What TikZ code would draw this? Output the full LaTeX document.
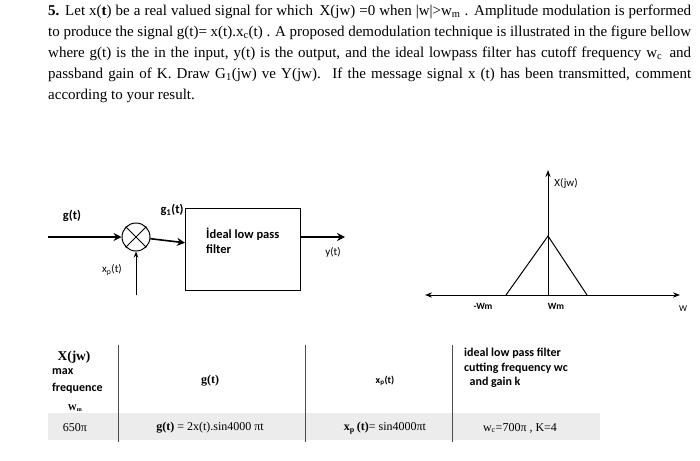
\documentclass[tikz,border=0pt]{standalone}
\usepackage{fontspec}
\setmainfont{Liberation Serif}
\setsansfont{Carlito}
\usetikzlibrary{arrows.meta}
\begin{document}
\begin{tikzpicture}[x=1pt,y=-1pt,
  sl/.style={font=\sffamily\bfseries\fontsize{12.5}{15}\selectfont, inner sep=0pt},
  sv/.style={font=\bfseries\fontsize{12}{14}\selectfont, inner sep=0pt},
  wire/.style={line width=1.6pt, -{Stealth[length=8pt,width=8pt]}},
  thin/.style={line width=1pt}]
\useasboundingbox (0,0) rectangle (700,460);
\node[anchor=north west, inner sep=0pt, text width=643pt, align=justify,
  font=\fontsize{15}{21}\selectfont] (txt) at (48,5)
{\textbf{5.} Let x(\textbf{t}) be a real valued signal for which\, X(jw) =0 when |w|>w\textsubscript{m} . Amplitude modulation is performed\linebreak to produce the signal g(t)= x(t).x\textsubscript{c}(t) . A proposed demodulation technique is illustrated in the figure bellow\linebreak where g(t) is the in the input, y(t) is the output, and the ideal lowpass filter has cutoff frequency w\textsubscript{c}\, and\linebreak passband gain of K. Draw G\textsubscript{1}(jw) ve Y(jw).\, If the message signal x (t) has been transmitted, comment\linebreak according to your result.};
% block diagram
\coordinate (in) at (48,237);
\node[draw, circle, thin, minimum size=28pt, inner sep=0pt] (mul) at (136,237) {};
\draw[thin] (mul.45) -- (mul.225) (mul.135) -- (mul.315);
\node[draw, line width=1.2pt, minimum width=115pt, minimum height=82pt, anchor=north west] (lpf) at (185,208) {};
\node[sl, align=left, anchor=north west] (lpft) at (206,228) {İdeal low pass\\filter};
\coordinate (out) at (345,237);
\coordinate (xp) at (136,295);
\draw[wire] (in) -- (mul);
\draw[wire] (mul) -- (lpf);
\draw[wire] (lpf.east |- out) -- (out);
\draw[thin, -{Stealth[length=6pt]}] (xp) -- (mul);
\node[sl] (gl) at (72,216) {g(t)};
\node[sl] (g1l) at (172,210) {g\textsubscript{1}(t)};
\node[sl, font=\sffamily\fontsize{11}{13}\selectfont] (xpl) at (112,270) {x\textsubscript{p}(t)};
\node[sl, font=\sffamily\fontsize{11}{13}\selectfont] (yl) at (333,252) {y(t)};
% spectrum
\coordinate (al) at (425,295); \coordinate (ar) at (680,295);
\coordinate (o) at (548,295); \coordinate (top) at (548,170);
\coordinate (p) at (548,236); \coordinate (wl) at (506,295); \coordinate (wr) at (587,295);
\draw[thin, {Stealth[length=7pt]}-{Stealth[length=7pt]}] (al) -- (ar);
\draw[thin, -{Stealth[length=7pt]}] (o) -- (top);
\draw[thin] (wl) -- (p) -- (wr);
\node[sl, font=\sffamily\fontsize{11}{13}\selectfont] (xjw) at (566,183) {X(jw)};
\node[sl, font=\sffamily\bfseries\fontsize{9.5}{11}\selectfont] (wml) at (483,306) {-Wm};
\node[sl, font=\sffamily\bfseries\fontsize{9.5}{11}\selectfont] (wmr) at (556,306) {Wm};
\node[sl, font=\sffamily\fontsize{9}{11}\selectfont] (wlab) at (683,309) {W};
% table
\fill[gray!15] (48,413) rectangle (600,440);
\draw[thin, gray!60!black] (118,345) -- (118,442) (305,345) -- (305,442) (452,345) -- (452,442);
\node[sv, font=\bfseries\fontsize{13.5}{15}\selectfont] (c1a) at (74,357) {X(jw)};
\node[sl, align=left, anchor=north west, font=\sffamily\bfseries\fontsize{12}{17}\selectfont] (c1b) at (52,368) {max\\frequence};
\node[sv, font=\bfseries\fontsize{9}{10}\selectfont] (c1c) at (75,408) {W\textsubscript{m}};
\node[sv] (c2) at (210,381) {g(t)};
\node[sl, font=\sffamily\bfseries\fontsize{10}{12}\selectfont] (c3) at (385,381) {x\textsubscript{p}(t)};
\node[sl, align=left, anchor=north west, font=\sffamily\bfseries\fontsize{12}{14.5}\selectfont] (c4) at (464,348) {ideal low pass filter\\cutting frequency wc\\\ \ and gain k};
\node[font=\fontsize{12}{14}\selectfont, inner sep=0pt] (d1) at (75,428) {650π};
\node[font=\fontsize{12}{14}\selectfont, inner sep=0pt] (d2) at (210,428) {\textbf{g(t)} = 2x(t).sin4000 πt};
\node[font=\fontsize{12}{14}\selectfont, inner sep=0pt] (d3) at (385,428) {\textbf{x\textsubscript{p}\,(t)}= sin4000πt};
\node[font=\fontsize{12}{14}\selectfont, inner sep=0pt] (d4) at (520,428) {w\textsubscript{c}=700π , K=4};
\end{tikzpicture}
\end{document}
